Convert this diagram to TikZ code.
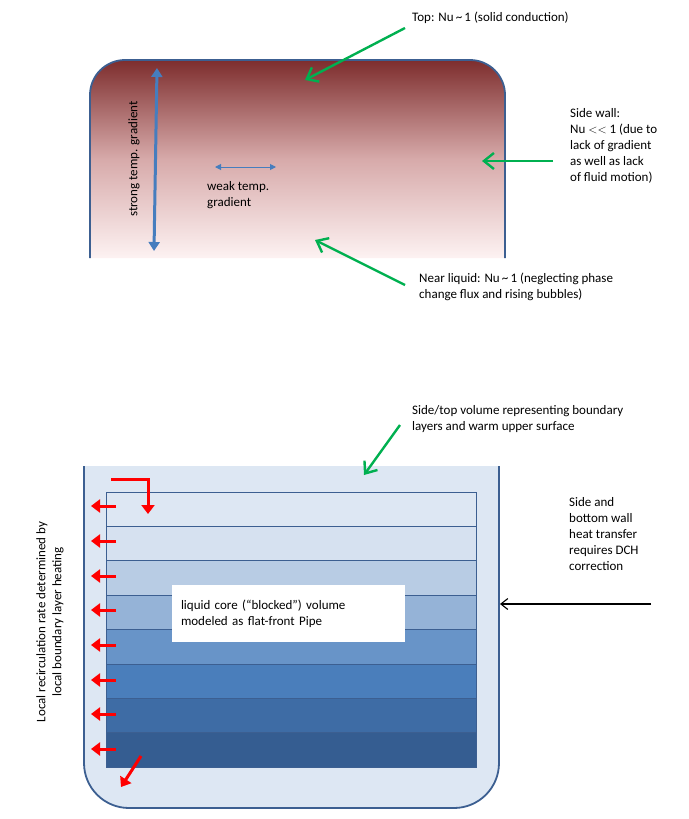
\documentclass[tikz,border=0pt]{standalone}
\usepackage{fontspec}
\setmainfont{Carlito}
\usetikzlibrary{arrows.meta}
\definecolor{dred}{RGB}{125,45,45}
\definecolor{mred}{RGB}{215,170,170}
\definecolor{lpink}{RGB}{253,242,242}
\definecolor{gr}{RGB}{0,176,80}
\definecolor{wallc}{RGB}{60,95,145}
\definecolor{barr}{RGB}{70,125,190}
\definecolor{vfill}{RGB}{221,231,243}
\begin{document}
\begin{tikzpicture}[x=1pt,y=-1pt,
  txt/.style={font=\fontsize{13}{16}\selectfont,align=left,inner sep=0pt},
  garr/.style={draw=gr,line width=2.4pt,-{Straight Barb[length=10pt,width=16pt]}},
  rarr/.style={draw=red,line width=3pt,-{Triangle[length=9pt,width=13pt]}},
  wall/.style={draw=wallc,line width=1.8pt}]
\useasboundingbox (0,0) rectangle (688,819);
% top vessel
\shade[top color=dred,bottom color=lpink,middle color=mred] (90,258) -- (90,95) arc[start angle=180,end angle=270,radius=35] -- (470,60) arc[start angle=270,end angle=360,radius=35] -- (505,258) -- cycle;
\draw[wall] (90,258) -- (90,95) arc[start angle=180,end angle=270,radius=35] -- (470,60) arc[start angle=270,end angle=360,radius=35] -- (505,258);
\draw[draw=barr,line width=3pt,{Triangle[length=9pt,width=11pt]}-{Triangle[length=9pt,width=11pt]}] (157,68) -- (154,251);
\node[txt,rotate=90] (sg) at (134,159) {strong temp. gradient};
\draw[draw=barr,line width=1pt,{Triangle[length=6pt,width=6pt]}-{Triangle[length=6pt,width=6pt]}] (215,167) -- (276,167);
\node[txt,anchor=north west] (wg) at (207,181) {weak temp.\\gradient};
% top labels
\node[txt,anchor=west] (t1) at (412,18) {Top: Nu\,\char"007E\,1 (solid conduction)};
\node[txt,anchor=north west] (t2) at (570,108) {Side wall:\\Nu $<<$ 1 (due to\\lack of gradient\\as well as lack\\of fluid motion)};
\node[txt,anchor=north west] (t3) at (419,273) {Near liquid: Nu\,\char"007E\,1 (neglecting phase\\change flux and rising bubbles)};
\coordinate (a1s) at (405,28); \coordinate (a1e) at (305,80);
\coordinate (a2s) at (553,161); \coordinate (a2e) at (482,161);
\coordinate (a3s) at (405,285); \coordinate (a3e) at (315,240);
\draw[garr] (a1s) -- (a1e);
\draw[garr] (a2s) -- (a2e);
\draw[garr] (a3s) -- (a3e);
% bottom vessel
\fill[vfill] (84,466) -- (84,763) arc[start angle=180,end angle=90,radius=45] -- (454,808) arc[start angle=90,end angle=0,radius=45] -- (499,466) -- cycle;
\draw[wall] (84,466) -- (84,763) arc[start angle=180,end angle=90,radius=45] -- (454,808) arc[start angle=90,end angle=0,radius=45] -- (499,466);
\foreach \i/\r/\g/\b in {0/221/231/243,1/214/225/240,2/184/204/228,3/149/179/215,4/104/148/200,5/74/126/187,6/62/108/165,7/53/93/145}{
  \definecolor{lay}{RGB}{\r,\g,\b}
  \filldraw[fill=lay,draw=wallc,line width=0.7pt] (106,{492+\i*34.4}) rectangle (476,{492+(\i+1)*34.4});
}
\node[fill=white,txt,minimum width=233pt,minimum height=57pt,text width=215pt,inner xsep=9pt] (core) at (288.5,613.5) {liquid core (\textquotedblleft blocked\textquotedblright) volume\\modeled as flat-front Pipe};
\foreach \y in {506,541,576,610,645,680,714,749}{\draw[rarr] (116,\y) -- (91,\y);}
\draw[red,line width=3pt,-{Triangle[length=9pt,width=13pt]}] (111,479) -- (148,479) -- (148,514);
\draw[rarr] (141,756) -- (121,787);
\node[txt,anchor=north west] (b1) at (412,405) {Side/top volume representing boundary\\layers and warm upper surface};
\node[txt,anchor=north west] (b2) at (569,497) {Side and\\bottom wall\\heat transfer\\requires DCH\\correction};
\node[txt,rotate=90,align=center] (b3) at (50,622) {Local recirculation rate determined by\\local boundary layer heating};
\coordinate (a4s) at (400,425); \coordinate (a4e) at (364,475);
\draw[garr] (a4s) -- (a4e);
\coordinate (a5s) at (651,604); \coordinate (a5e) at (500,604);
\draw[black,line width=1.1pt,-{Straight Barb[length=7pt,width=11pt]}] (a5s) -- (a5e);
\end{tikzpicture}
\end{document}
